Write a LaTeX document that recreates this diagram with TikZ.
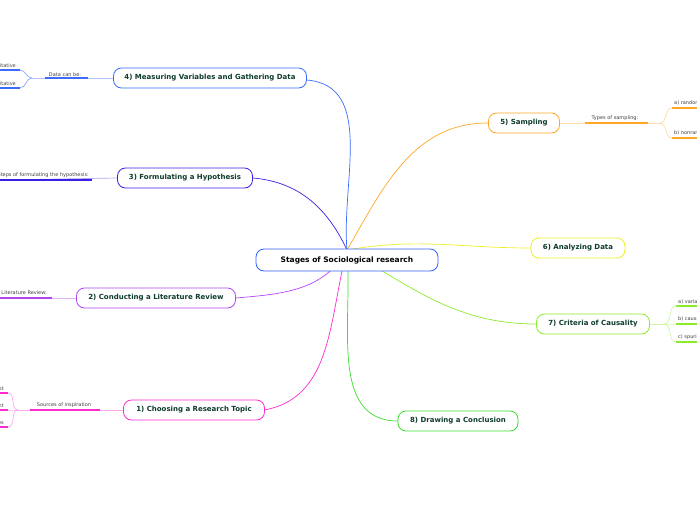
\documentclass[tikz,border=0pt]{standalone}
\usepackage{fontspec}
\setmainfont{DejaVu Sans}
\usetikzlibrary{positioning}
\definecolor{cIV}{HTML}{3B6BFF}
\definecolor{cIII}{HTML}{3A1FE8}
\definecolor{cII}{HTML}{B246F5}
\definecolor{cI}{HTML}{FF2BD0}
\definecolor{cV}{HTML}{FFA726}
\definecolor{cVI}{HTML}{EEEE22}
\definecolor{cVII}{HTML}{8CEB2A}
\definecolor{cVIII}{HTML}{3BDD2E}
\definecolor{txt}{HTML}{0E3B2E}
\begin{document}
\begin{tikzpicture}[x=1pt,y=-1pt]
	\tikzset{topic/.style = {draw, rounded corners=8pt, line width=0.8pt,
			minimum height=20pt, inner xsep=6pt, fill=white,
			font=\fontsize{7}{8}\selectfont\bfseries, text=txt}}
	\tikzset{lbl/.style = {font=\fontsize{5}{6}\selectfont, text=black!75, inner sep=1pt}}
	\tikzset{link/.style = {line width=0.7pt}}
	\tikzset{under/.style = {line width=1.1pt}}
	\clip (0,0) rectangle (697,520);
	\useasboundingbox (0,0) rectangle (697,520);
	
	% main branches
	\draw[link,cIV] (347,250) to[out=95,in=-5] (307,80);
	\draw[link,cIII] (347,250) to[out=115,in=-5] (253,178);
	\draw[link,cII] (347,250) to[out=240,in=5] (236,298);
	\draw[link,cI] (347,250) to[out=255,in=10] (264,410);
	\draw[link,cV] (347,250) to[out=60,in=180] (488,123);
	\draw[link,cVI] (347,250) to[out=10,in=180] (531,248);
	\draw[link,cVII] (347,250) to[out=-30,in=180] (537,324);
	\draw[link,cVIII] (347,250) to[out=-85,in=180] (398,421);
	
	% nodes
	\node[topic, draw=cIV!90!blue, minimum width=182pt, minimum height=22pt, font=\fontsize{7.5}{9}\selectfont\bfseries, text=black] (root) at (347,260) {Stages of Sociological research};
	\node[topic, draw=cIV, minimum width=193pt] (meas) at (210,78) {4) Measuring Variables and Gathering Data};
	\node[topic, draw=cIII, minimum width=135pt] (hyp) at (185,178) {3) Formulating a Hypothesis};
	\node[topic, draw=cII, minimum width=159pt] (lit) at (156,298) {2) Conducting a Literature Review};
	\node[topic, draw=cI, minimum width=141pt] (topicI) at (194,410) {1) Choosing a Research Topic};
	\node[topic, draw=cV, minimum width=71pt] (samp) at (524,123) {5) Sampling};
	\node[topic, draw=cVI, minimum width=94pt] (anal) at (578,248) {6) Analyzing Data};
	\node[topic, draw=cVII, minimum width=113pt] (caus) at (593,324) {7) Criteria of Causality};
	\node[topic, draw=cVIII, minimum width=120pt] (concl) at (458,421) {8) Drawing a Conclusion};
	
	% 4) sub-branches
	\coordinate (d4) at (32,78);
	\draw[link,cIV!40] (meas.west) -- (d4);
	\draw[under,cIV] (45,78) -- (88,78);
	\node[lbl, above] (dlbl) at (65,78) {Data can be:};
	\draw[link,cIV!60] (d4) to[out=180,in=0] (20,70) -- (0,70);
	\draw[link,cIV!60] (d4) to[out=180,in=0] (20,88) -- (0,88);
	\draw[under,cIV] (0,70) -- (20,70);
	\draw[under,cIV] (0,88) -- (20,88);
	\node[lbl, above left] (quant) at (17,69) {Quantitative};
	\node[lbl, above left] (qual) at (17,87) {Qualitative};
	
	% 3)
	\draw[link,cIII!40] (hyp.west) -- (0,180);
	\draw[under,cIII] (0,180) -- (92,180);
	\node[lbl, above left] (steps) at (90,179) {Steps of formulating the hypothesis:};
	
	% 2)
	\draw[link,cII!40] (lit.west) -- (0,298);
	\draw[under,cII] (0,298) -- (52,298);
	\node[lbl, above left] (purp) at (48,297) {Purposes of Literature Review:};
	
	% 1)
	\coordinate (s1) at (18,410);
	\draw[link,cI!40] (topicI.west) -- (s1);
	\draw[under,cI] (30,410) -- (100,410);
	\node[lbl, above] (src) at (64,409) {Sources of inspiration};
	\foreach \yy/\tt in {393/Personal interest, 410/Current event, 427/Previous studies}{
		\draw[link,cI!40] (s1) to[out=180,in=0] (8,\yy) -- (0,\yy);
		\draw[under,cI] (0,\yy) -- (8,\yy);
		\node[lbl, above left] at (5,\yy-1) {\tt};
	}
	
	% 5)
	\coordinate (s5) at (660,123);
	\draw[link,cV!40] (samp.east) -- (s5);
	\draw[under,cV] (585,123) -- (648,123);
	\node[lbl, above] (types) at (615,122) {Types of sampling:};
	\draw[link,cV!40] (s5) to[out=0,in=180] (672,108) -- (697,108);
	\draw[link,cV!40] (s5) to[out=0,in=180] (672,138) -- (697,138);
	\draw[under,cV] (672,108) -- (697,108);
	\draw[under,cV] (672,138) -- (697,138);
	\node[lbl, above right] (rand) at (673,107) {a) random sampling};
	\node[lbl, above right] (nonr) at (673,137) {b) nonrandom sampling};
	
	% 7)
	\coordinate (s7) at (664,324);
	\draw[link,cVII!40] (caus.east) -- (s7);
	\foreach \yy/\tt in {306/a) variables must be correlated, 324/b) cause must precede effect, 342/c) spuriousness must be ruled out}{
		\draw[link,cVII!40] (s7) to[out=0,in=180] (676,\yy) -- (697,\yy);
		\draw[under,cVII] (676,\yy) -- (697,\yy);
		\node[lbl, above right] at (677,\yy-1) {\tt};
	}
\end{tikzpicture}
\end{document}
